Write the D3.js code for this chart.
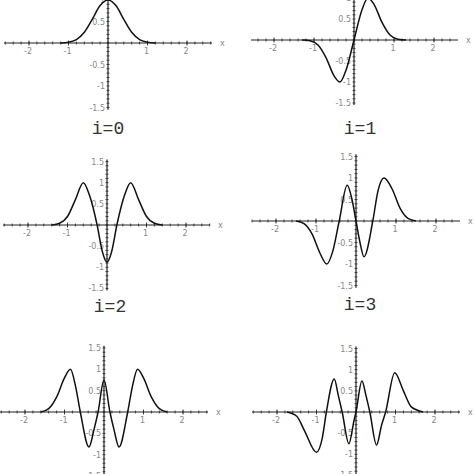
<!DOCTYPE html>
<html><head><meta charset="utf-8">
<script src="https://cdn.jsdelivr.net/npm/d3@7"></script>
<style>body{margin:0;background:#fff}</style></head>
<body><svg id="c" width="474" height="474"></svg>
<script>
const titles = ["i=0","i=1","i=2","i=3","i=4","i=5"];
const xTicks = [-2,-1,1,2];
const yTicks = [-1.5,-1,-0.5,0.5,1,1.5];
const s0 = [[-1.2,0],[-1.0,0.02],[-0.8,0.08],[-0.6,0.25],[-0.4,0.55],[-0.2,0.87],[0,1],[0.2,0.87],[0.4,0.55],[0.6,0.25],[0.8,0.08],[1.0,0.02],[1.2,0]];
const s1 = [[-1.3,0],[-1.1,-0.02],[-0.9,-0.12],[-0.7,-0.42],[-0.5,-0.85],[-0.35,-1.0],[-0.2,-0.72],[0,0],[0.2,0.72],[0.35,1.0],[0.5,0.85],[0.7,0.42],[0.9,0.12],[1.1,0.02],[1.3,0]];
const s2 = [[-1.4,0],[-1.2,0.04],[-1.0,0.2],[-0.8,0.6],[-0.6,1.0],[-0.45,0.72],[-0.25,0],[-0.12,-0.62],[0,-0.88],[0.12,-0.62],[0.25,0],[0.45,0.72],[0.6,1.0],[0.8,0.6],[1.0,0.2],[1.2,0.04],[1.4,0]];
const s3 = [[-1.5,0],[-1.3,-0.06],[-1.1,-0.3],[-0.9,-0.75],[-0.73,-1.0],[-0.58,-0.7],[-0.42,0],[-0.22,0.83],[-0.1,0.5],[0,0],[0.1,-0.5],[0.2,-0.83],[0.42,0],[0.55,0.7],[0.7,1.0],[0.9,0.75],[1.1,0.3],[1.3,0.06],[1.5,0]];
const s4 = [[-1.6,0],[-1.4,0.08],[-1.2,0.35],[-1.0,0.8],[-0.85,1.0],[-0.72,0.6],[-0.6,0],[-0.38,-0.82],[-0.25,-0.4],[-0.15,0],[0,0.75],[0.15,0],[0.25,-0.4],[0.38,-0.82],[0.6,0],[0.72,0.6],[0.85,1.0],[1.0,0.8],[1.2,0.35],[1.4,0.08],[1.6,0]];
const s5 = [[-1.75,0],[-1.5,-0.1],[-1.3,-0.45],[-1.0,-0.95],[-0.85,-0.6],[-0.75,0],[-0.55,0.78],[-0.45,0.4],[-0.35,0],[-0.18,-0.75],[-0.05,-0.2],[0,0],[0.15,0.73],[0.25,0.4],[0.35,0],[0.52,-0.78],[0.65,-0.3],[0.75,0],[0.98,0.93],[1.2,0.5],[1.4,0.12],[1.7,0]];
const series = [s0,s1,s2,s3,s4,s5];

const layout = [
 {ox:108,oy:43,ux:39.5,uy:43,l:4,r:212,tx:108,ty:134},
 {ox:354,oy:40,ux:40,uy:42,l:251,r:458,tx:360,ty:134},
 {ox:107,oy:225,ux:39.5,uy:42.3,l:3,r:210,tx:110,ty:312},
 {ox:356,oy:221,ux:40,uy:43,l:252,r:460,tx:360,ty:310},
 {ox:104,oy:412,ux:39.5,uy:42.7,l:0,r:208,tx:108,ty:500},
 {ox:356,oy:412,ux:39.5,uy:42.3,l:252,r:460,tx:360,ty:500}
];
const svg = d3.select("#c");
layout.forEach((L,i)=>{
  const x = d3.scaleLinear().domain([0,1]).range([L.ox,L.ox+L.ux]);
  const y = d3.scaleLinear().domain([0,1]).range([L.oy,L.oy-L.uy]);
  const g = svg.append("g");
  // x axis line
  g.append("line").attr("x1",L.l).attr("x2",L.r).attr("y1",L.oy).attr("y2",L.oy).attr("stroke","#222").attr("stroke-width",1);
  const xmin = x.invert(L.l), xmax = x.invert(L.r);
  const minor = d3.range(Math.ceil(xmin*5)/5, xmax, 0.2);
  g.selectAll(".mx").data(minor).join("line").attr("x1",d=>x(d)).attr("x2",d=>x(d)).attr("y1",L.oy-1.5).attr("y2",L.oy+1.5).attr("stroke","#222").attr("stroke-width",0.8);
  g.selectAll(".Mx").data(xTicks).join("line").attr("x1",d=>x(d)).attr("x2",d=>x(d)).attr("y1",L.oy-2.5).attr("y2",L.oy+2.5).attr("stroke","#222").attr("stroke-width",0.8);
  g.selectAll(".tx").data(xTicks).join("text").attr("x",d=>x(d)-1).attr("y",L.oy+11).attr("text-anchor","middle").attr("font-family","DejaVu Sans").attr("font-size",8).attr("fill","#888").text(d=>d<0?"-"+Math.abs(d):d);
  g.append("text").attr("x",L.r+8).attr("y",L.oy+3).attr("font-family","DejaVu Sans").attr("font-size",8).attr("fill","#888").text("x");
  // y axis
  g.append("line").attr("x1",L.ox).attr("x2",L.ox).attr("y1",y(1.55)).attr("y2",y(-1.55)).attr("stroke","#222").attr("stroke-width",1.2);
  g.selectAll(".my").data(d3.range(-15,16).map(v=>v/10)).join("line").attr("x1",L.ox-1.5).attr("x2",L.ox+1.5).attr("y1",d=>y(d)).attr("y2",d=>y(d)).attr("stroke","#222").attr("stroke-width",0.8);
  g.selectAll(".ty").data(yTicks).join("text").attr("x",L.ox-3).attr("y",d=>y(d)+3).attr("text-anchor","end").attr("font-family","DejaVu Sans").attr("font-size",8).attr("fill","#888").text(d=>d<0?"-"+Math.abs(d):d);
  // curve
  g.append("path").datum(series[i]).attr("fill","none").attr("stroke","#111").attr("stroke-width",1.5)
   .attr("d",d3.line().x(d=>x(d[0])).y(d=>y(d[1])).curve(d3.curveMonotoneX));
  g.append("text").attr("x",L.tx).attr("y",L.ty).attr("text-anchor","middle").attr("font-family","Liberation Mono").attr("font-size",18).attr("fill","#333").text(titles[i]);
});
</script></body></html>
